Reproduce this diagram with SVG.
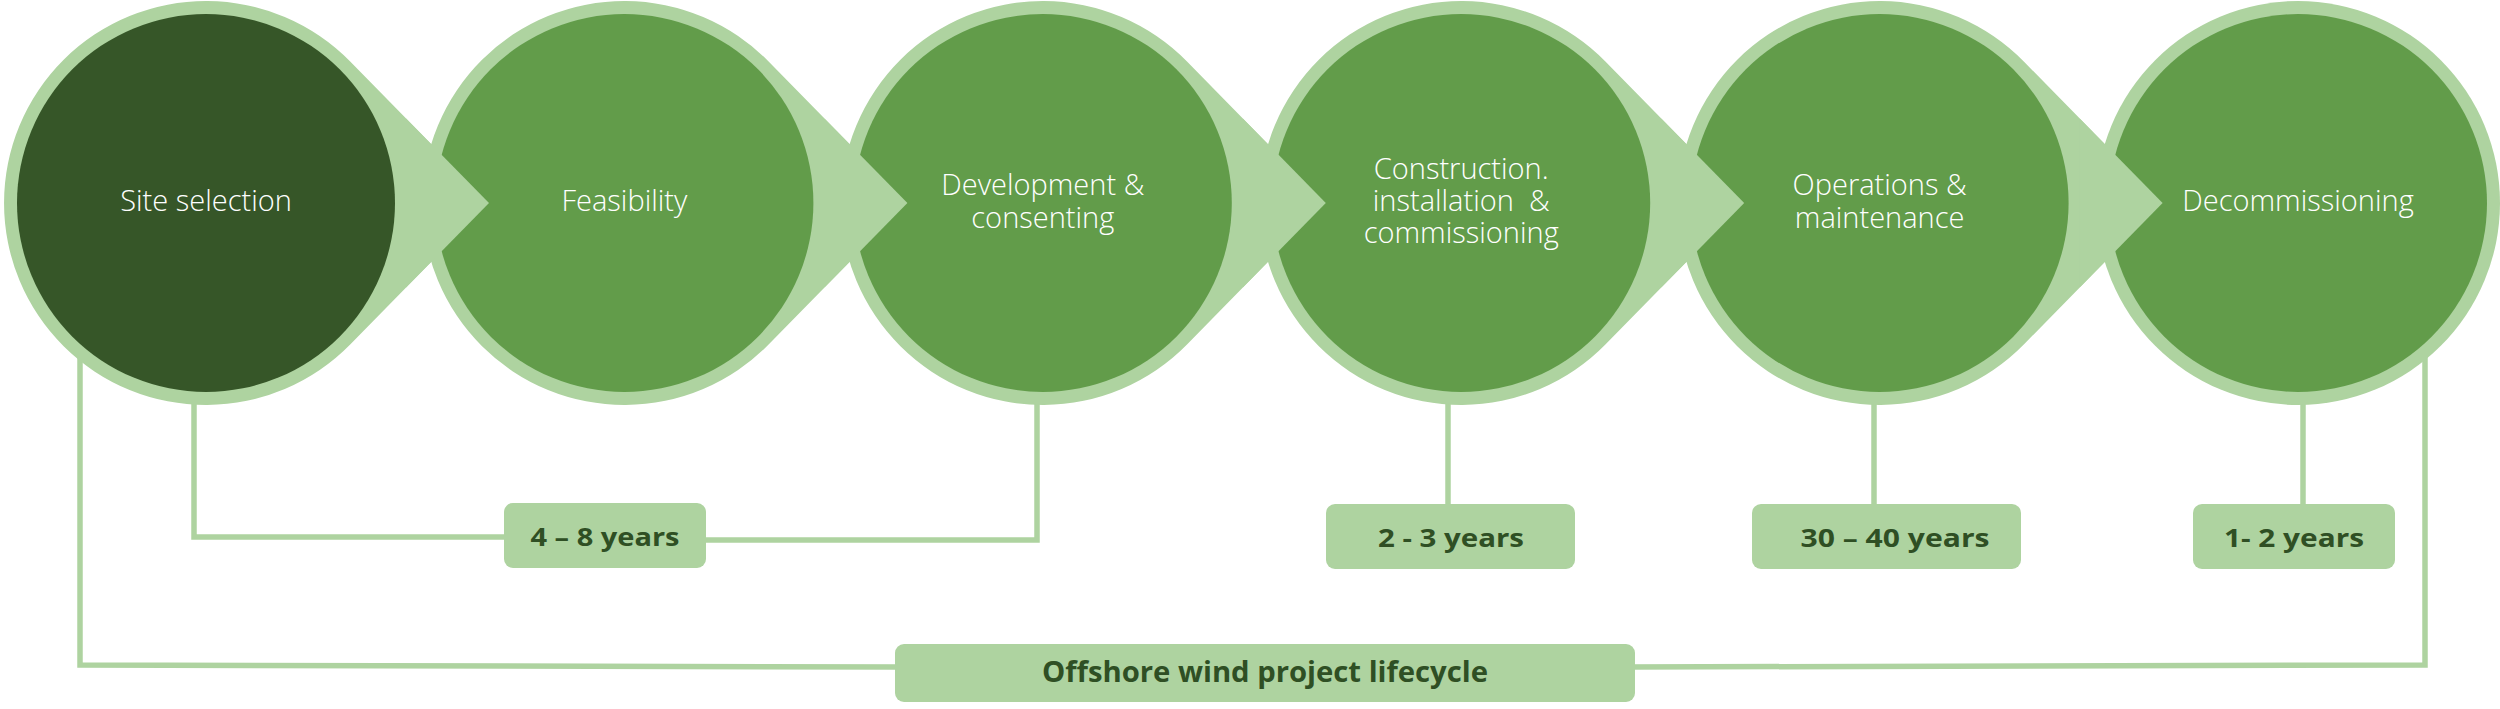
<svg xmlns="http://www.w3.org/2000/svg" width="2500" height="709" viewBox="0 0 2500 709">
<style>
.ring{fill:#aed3a0}
.inner{fill:#629c4a}
.dark{fill:#365628}
.lbl{font-family:"Open Sans","DejaVu Sans",sans-serif;font-weight:300;font-size:29px;fill:#ffffff;text-anchor:middle}
.box{fill:#aed3a0}
.dur{font-family:"Open Sans","DejaVu Sans",sans-serif;font-weight:700;font-size:25px;fill:#2f4f24;text-anchor:middle}
.life{font-family:"Open Sans","DejaVu Sans",sans-serif;font-weight:700;font-size:28px;fill:#2f4f24;text-anchor:middle}
.con{fill:none;stroke:#aed3a0;stroke-width:5.5}
</style>
<g id="connectors">
<polyline class="con" points="194,380 194,537 510,537"/>
<polyline class="con" points="700,540 1037,540 1037,380"/>
<line class="con" x1="1448" y1="380" x2="1448" y2="510"/>
<line class="con" x1="1874" y1="380" x2="1874" y2="510"/>
<line class="con" x1="2303" y1="380" x2="2303" y2="510"/>
<polyline class="con" points="80,340 80,665 900,667"/>
<polyline class="con" points="1630,667 2425,665 2425,340"/>
</g>
<g id="node-site-selection">
<path class="ring" d="M350.2,61.5 L489,203 L350.2,344.5 A202 202 0 1 1 350.2,61.5 Z"/>
<circle class="dark" cx="206" cy="203" r="189"/>
<text class="lbl" x="206" y="211">Site selection</text>
</g>
<g id="node-feasibility">
<path class="ring" d="M768.6,61.5 L907.4,203 L768.6,344.5 A202 202 0 1 1 768.6,61.5 Z"/>
<circle class="inner" cx="624.4" cy="203" r="189"/>
<text class="lbl" x="624.4" y="211">Feasibility</text>
</g>
<g id="node-development">
<path class="ring" d="M1187,61.5 L1325.8,203 L1187,344.5 A202 202 0 1 1 1187,61.5 Z"/>
<circle class="inner" cx="1042.8" cy="203" r="189"/>
<text class="lbl" x="1042.8" y="195">Development &amp;<tspan x="1042.8" dy="33">consenting</tspan></text>
</g>
<g id="node-construction">
<path class="ring" d="M1605.4,61.5 L1744.2,203 L1605.4,344.5 A202 202 0 1 1 1605.4,61.5 Z"/>
<circle class="inner" cx="1461.2" cy="203" r="189"/>
<text class="lbl" x="1461.2" y="179" xml:space="preserve">Construction.<tspan x="1461.2" dy="32">installation  &amp;</tspan><tspan x="1461.2" dy="32">commissioning</tspan></text>
</g>
<g id="node-operations">
<path class="ring" d="M2023.8,61.5 L2162.6,203 L2023.8,344.5 A202 202 0 1 1 2023.8,61.5 Z"/>
<circle class="inner" cx="1879.6" cy="203" r="189"/>
<text class="lbl" x="1879.6" y="195">Operations &amp;<tspan x="1879.6" dy="33">maintenance</tspan></text>
</g>
<g id="node-decommissioning">
<circle class="ring" cx="2298" cy="203" r="202"/>
<circle class="inner" cx="2298" cy="203" r="189"/>
<text class="lbl" x="2298" y="211">Decommissioning</text>
</g>
<g id="arrow-tips">
<polygon class="ring" points="406,118.4 489,203 406,287.6"/>
<polygon class="ring" points="824.4,118.4 907.4,203 824.4,287.6"/>
<polygon class="ring" points="1242.8,118.4 1325.8,203 1242.8,287.6"/>
<polygon class="ring" points="1661.2,118.4 1744.2,203 1661.2,287.6"/>
<polygon class="ring" points="2079.6,118.4 2162.6,203 2079.6,287.6"/>
</g>
<g id="dur-4-8">
<rect class="box" x="504" y="503" width="202" height="65" rx="9"/>
<text class="dur" x="605" y="546" textLength="149" lengthAdjust="spacingAndGlyphs">4 – 8 years</text>
</g>
<g id="dur-2-3">
<rect class="box" x="1326" y="504" width="249" height="65" rx="9"/>
<text class="dur" x="1451" y="547" textLength="146" lengthAdjust="spacingAndGlyphs">2 - 3 years</text>
</g>
<g id="dur-30-40">
<rect class="box" x="1752" y="504" width="269" height="65" rx="9"/>
<text class="dur" x="1895" y="547" textLength="189" lengthAdjust="spacingAndGlyphs">30 – 40 years</text>
</g>
<g id="dur-1-2">
<rect class="box" x="2193" y="504" width="202" height="65" rx="9"/>
<text class="dur" x="2294" y="547" textLength="140" lengthAdjust="spacingAndGlyphs">1- 2 years</text>
</g>
<g id="lifecycle">
<rect class="box" x="895" y="644" width="740" height="58" rx="9"/>
<text class="life" x="1265" y="682" textLength="446" lengthAdjust="spacingAndGlyphs">Offshore wind project lifecycle</text>
</g>
</svg>
